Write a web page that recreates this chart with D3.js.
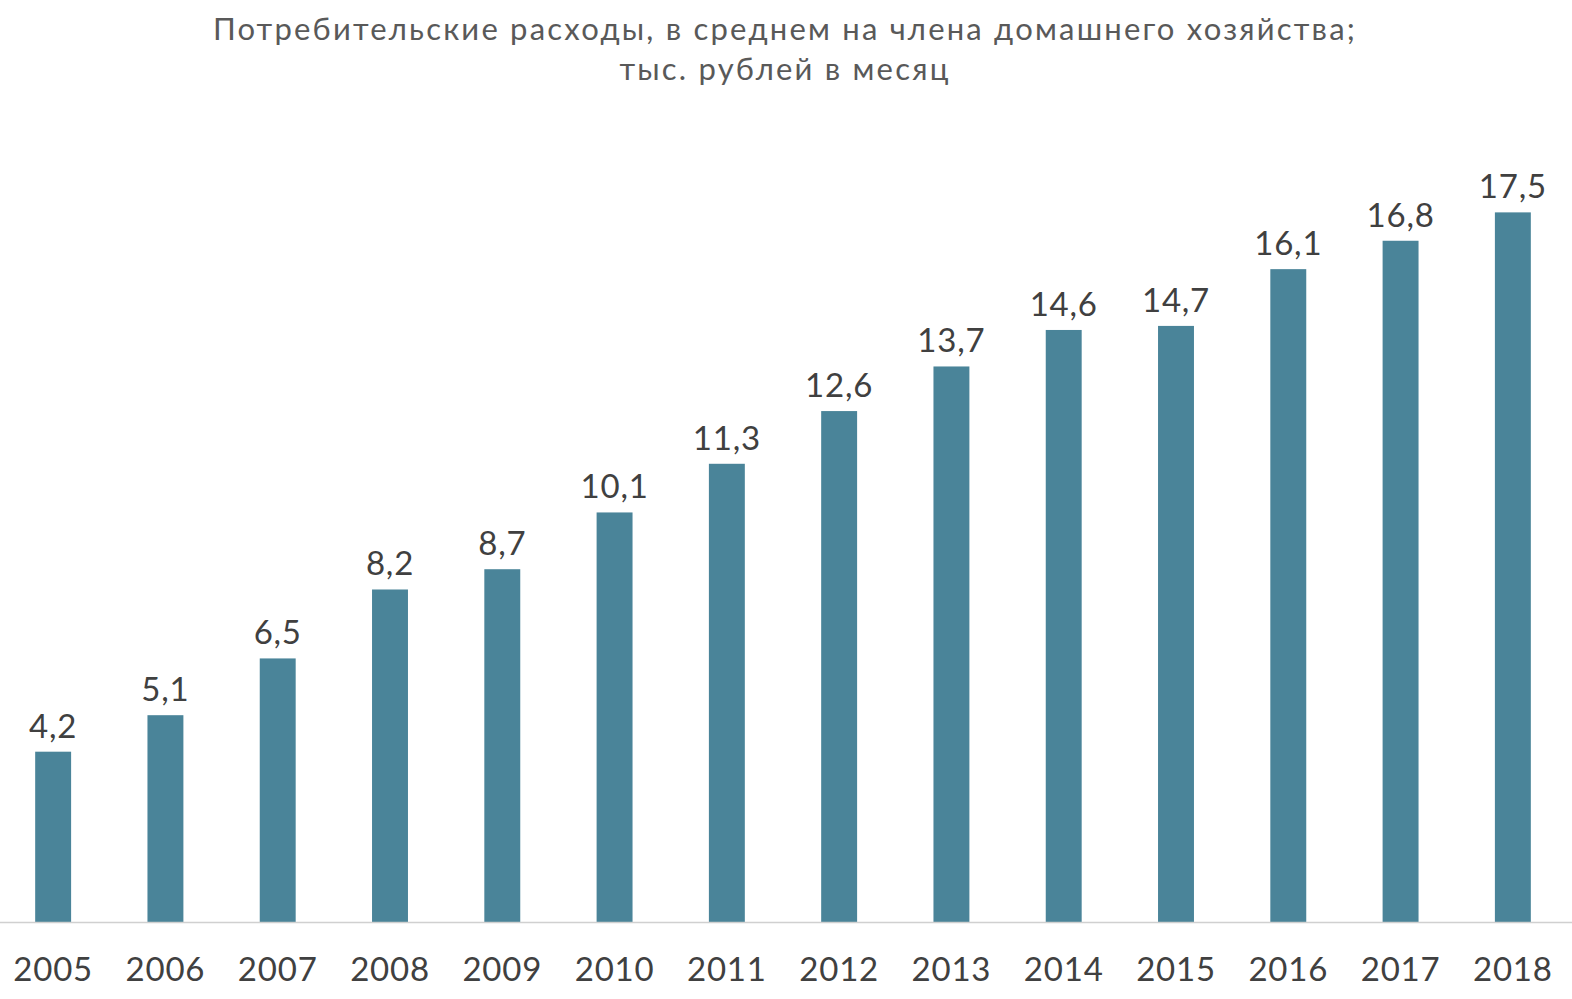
<!DOCTYPE html>
<html><head><meta charset="utf-8">
<script src="https://cdn.jsdelivr.net/npm/d3@7"></script>
<style>body{margin:0;background:#fff}svg{display:block}</style>
</head><body>
<script>
const years = ["2005","2006","2007","2008","2009","2010","2011","2012","2013","2014","2015","2016","2017","2018"];
const values = [4.2,5.1,6.5,8.2,8.7,10.1,11.3,12.6,13.7,14.6,14.7,16.1,16.8,17.5];
const titleLines = ["Потребительские расходы, в среднем на члена домашнего хозяйства;","тыс. рублей в месяц"];

const W=1572,H=999;
const svg=d3.select("body").append("svg").attr("width",W).attr("height",H);
const font="Lato, 'Open Sans', sans-serif";
const x=d3.scaleBand().domain(years).range([-3,1569]).paddingInner(0.68).paddingOuter(0.34);
const y=d3.scaleLinear().domain([0,20]).range([922,111]);

svg.selectAll("text.t").data(titleLines).join("text")
  .attr("x",785).attr("y",(d,i)=>40+i*40).attr("text-anchor","middle")
  .attr("font-family",font).attr("font-size",31).attr("letter-spacing",2.2).attr("fill","#595959").text(d=>d);

svg.selectAll("rect").data(values).join("rect")
  .attr("x",(d,i)=>x(years[i])).attr("width",x.bandwidth())
  .attr("y",d=>y(d)).attr("height",d=>y(0)-y(d)).attr("fill","#4a8499");

svg.append("line").attr("x1",0).attr("x2",W).attr("y1",y(0)+0.5).attr("y2",y(0)+0.5)
  .attr("stroke","#d0d0d0").attr("stroke-width",1.5);

svg.selectAll("text.v").data(values).join("text").attr("class","v")
  .attr("x",(d,i)=>x(years[i])+x.bandwidth()/2).attr("y",d=>y(d)-14)
  .attr("text-anchor","middle").attr("font-family",font).attr("font-size",33).attr("letter-spacing",0.8).attr("fill","#404040")
  .text(d=>d.toFixed(1).replace(".",","));

const ax=svg.append("g").attr("transform",`translate(0,${y(0)})`)
  .call(d3.axisBottom(x).tickSize(0).tickPadding(36));
ax.select(".domain").remove();
ax.selectAll("text").attr("font-family",font).attr("font-size",33).attr("letter-spacing",0.8).attr("fill","#404040");
</script>
</body></html>
